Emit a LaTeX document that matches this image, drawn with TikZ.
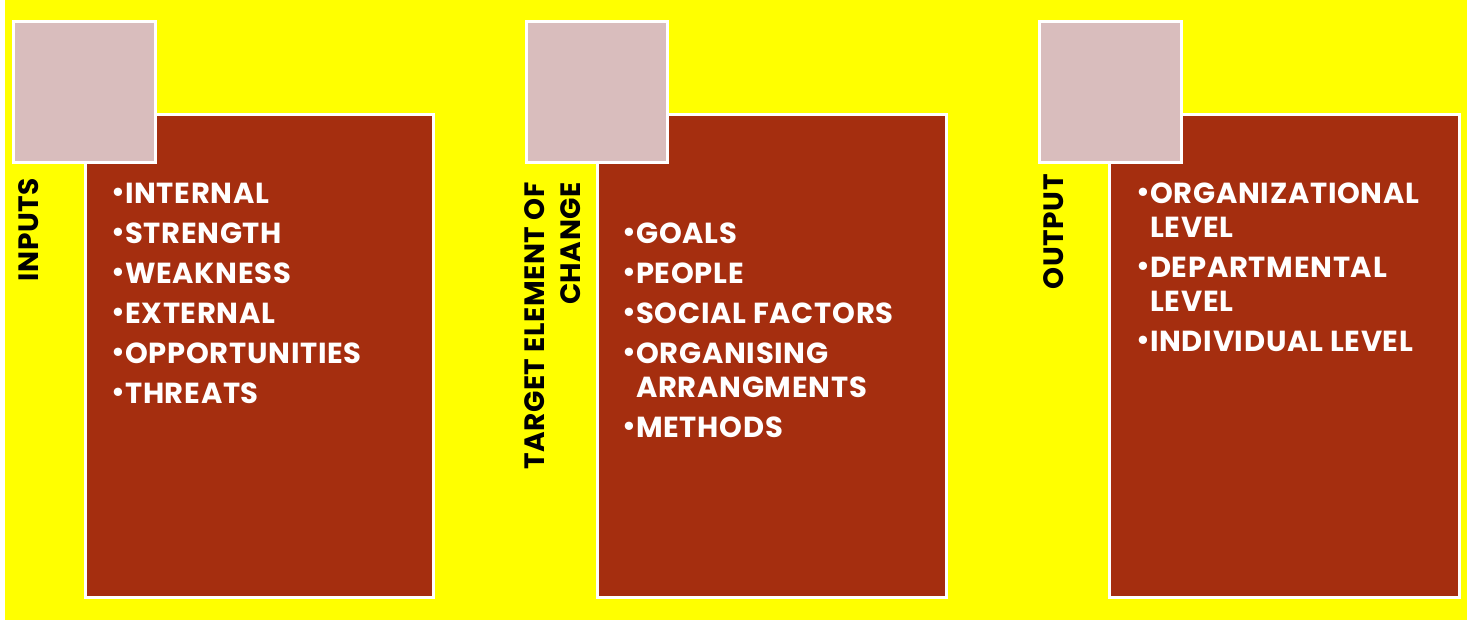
\documentclass[tikz,border=0pt]{standalone}
\usepackage{fontspec}
\newfontfamily\gothicside{Poppins}[BoldFont=* Bold, LetterSpace=2]
\newfontfamily\gothicwide{Poppins}[BoldFont=* Bold, LetterSpace=2.5]
\definecolor{bgyellow}{RGB}{255,255,0}
\definecolor{boxred}{RGB}{165,46,15}
\definecolor{boxpink}{RGB}{217,189,189}
\newcommand{\bul}{\makebox[14pt][l]{\raisebox{2pt}{\scalebox{0.95}{•}}}}
\newcommand{\hang}{\hspace*{14pt}}
\tikzset{
  redbox/.style={draw=white, line width=3pt, fill=boxred},
  pinkbox/.style={draw=white, line width=3pt, fill=boxpink},
  listtext/.style={text=white, font=\gothicwide\bfseries\fontsize{29}{34}\selectfont, align=left, anchor=north west, inner sep=0pt},
  sidelabel/.style={text=black, font=\gothicside\bfseries\fontsize{28}{36}\selectfont, rotate=90, anchor=north east, inner sep=0pt, align=right}
}
\begin{document}
\begin{tikzpicture}[x=1pt,y=1pt]
\useasboundingbox (0,0) rectangle (1467,620);
\fill[white] (0,0) rectangle (1467,620);
\fill[bgyellow] (5,0) rectangle (1467,620);
% column 1
\draw[redbox] (85,22) rectangle (433,505);
\draw[pinkbox] (13,457) rectangle (155,598);
\node[listtext] (l1) at (111,437) {\bul INTERNAL\\[6pt]\bul STRENGTH\\[6pt]\bul WEAKNESS\\[6pt]\bul EXTERNAL\\[6pt]\bul OPPORTUNITIES\\[6pt]\bul THREATS};
\node[sidelabel] (s1) at (18,442) {INPUTS};
% column 2
\draw[redbox] (597,22) rectangle (946,505);
\draw[pinkbox] (526,457) rectangle (667,598);
\node[listtext] (l2) at (622,397) {\bul GOALS\\[6pt]\bul PEOPLE\\[6pt]\bul SOCIAL FACTORS\\[6pt]\bul ORGANISING\\\hang ARRANGMENTS\\[6pt]\bul METHODS};
\node[sidelabel] (s2) at (524,438) {TARGET ELEMENT OF\\CHANGE};
% column 3
\draw[redbox] (1109,22) rectangle (1459,505);
\draw[pinkbox] (1039,457) rectangle (1181,598);
\node[listtext] (l3) at (1136,437) {\bul ORGANIZATIONAL\\\hang LEVEL\\[6pt]\bul DEPARTMENTAL\\\hang LEVEL\\[6pt]\bul INDIVIDUAL LEVEL};
\node[sidelabel] (s3) at (1043,446) {OUTPUT};
\end{tikzpicture}
\end{document}
